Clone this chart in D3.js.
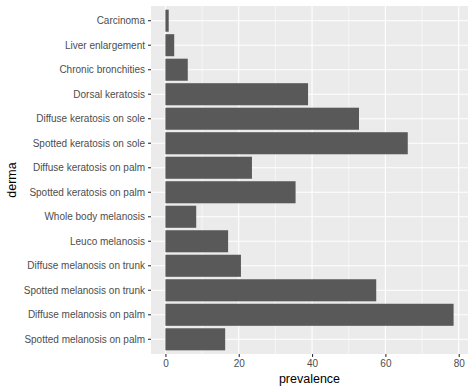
<!DOCTYPE html>
<html><head><meta charset="utf-8">
<script src="https://cdn.jsdelivr.net/npm/d3@7"></script>
<style>body{margin:0;background:#fff}svg{display:block}</style>
</head><body>
<script>
const categories = ["Carcinoma","Liver enlargement","Chronic bronchities","Dorsal keratosis","Diffuse keratosis on sole","Spotted keratosis on sole","Diffuse keratosis on palm","Spotted keratosis on palm","Whole body melanosis","Leuco melanosis","Diffuse melanosis on trunk","Spotted melanosis on trunk","Diffuse melanosis on palm","Spotted melanosis on palm"];
const prevalence = [0.9,2.4,6.1,38.9,52.8,66.1,23.6,35.5,8.4,17.1,20.6,57.5,78.6,16.3];
const xTicks = [0,20,40,60,80];

const W=474,H=391;
const svg=d3.select("body").append("svg").attr("width",W).attr("height",H);
const pL=151,pR=468,pT=6,pB=354;
const maxV=d3.max(prevalence);
const ex=maxV*0.05;
const x=d3.scaleLinear().domain([-ex,maxV+ex]).range([pL,pR]);
const n=categories.length;
const y=d3.scaleLinear().domain([0.4,n+0.6]).range([pT,pB]);
const unit=(pB-pT)/(n+0.2);

svg.append("rect").attr("x",pL).attr("y",pT).attr("width",pR-pL).attr("height",pB-pT).attr("fill","#EBEBEB");
const minor=[10,30,50,70];
svg.selectAll(".mg").data(minor).enter().append("line")
 .attr("x1",d=>x(d)).attr("x2",d=>x(d)).attr("y1",pT).attr("y2",pB)
 .attr("stroke","#fff").attr("stroke-width",0.55);
svg.selectAll(".gx").data(xTicks).enter().append("line")
 .attr("x1",d=>x(d)).attr("x2",d=>x(d)).attr("y1",pT).attr("y2",pB)
 .attr("stroke","#fff").attr("stroke-width",1.1);
svg.selectAll(".gy").data(categories).enter().append("line")
 .attr("x1",pL).attr("x2",pR).attr("y1",(d,i)=>y(i+1)).attr("y2",(d,i)=>y(i+1))
 .attr("stroke","#fff").attr("stroke-width",1.1);

svg.selectAll(".bar").data(prevalence).enter().append("rect")
 .attr("x",x(0)).attr("y",(d,i)=>y(i+1)-0.45*unit)
 .attr("width",d=>x(d)-x(0)).attr("height",0.9*unit).attr("fill","#595959");

const xa=svg.append("g").attr("transform",`translate(0,${pB})`)
 .call(d3.axisBottom(x).tickValues(xTicks).tickSize(3).tickPadding(3).tickFormat(d3.format("d")));
xa.select(".domain").remove();
xa.selectAll("line").attr("stroke","#333").attr("stroke-width",1.1);
xa.selectAll("text").attr("fill","#4D4D4D").style("font-family","'Liberation Sans',Arial,sans-serif").style("font-size","10px");

const ya=svg.append("g").attr("transform",`translate(${pL},0)`);
categories.forEach((c,i)=>{
  ya.append("line").attr("x1",-3).attr("x2",0).attr("y1",y(i+1)).attr("y2",y(i+1)).attr("stroke","#333").attr("stroke-width",1.1);
  ya.append("text").attr("x",-6).attr("y",y(i+1)).attr("dy","0.35em").attr("text-anchor","end")
   .attr("fill","#4D4D4D").style("font-family","'Liberation Sans',Arial,sans-serif").style("font-size","10px").text(c);
});

svg.append("text").attr("x",(pL+pR)/2).attr("y",383).attr("text-anchor","middle")
 .attr("fill","#000").style("font-family","'Liberation Sans',Arial,sans-serif").style("font-size","12.5px").text("prevalence");
svg.append("text").attr("transform",`translate(16,${(pT+pB)/2}) rotate(-90)`).attr("text-anchor","middle")
 .attr("fill","#000").style("font-family","'Liberation Sans',Arial,sans-serif").style("font-size","12.5px").text("derma");
</script>
</body></html>
